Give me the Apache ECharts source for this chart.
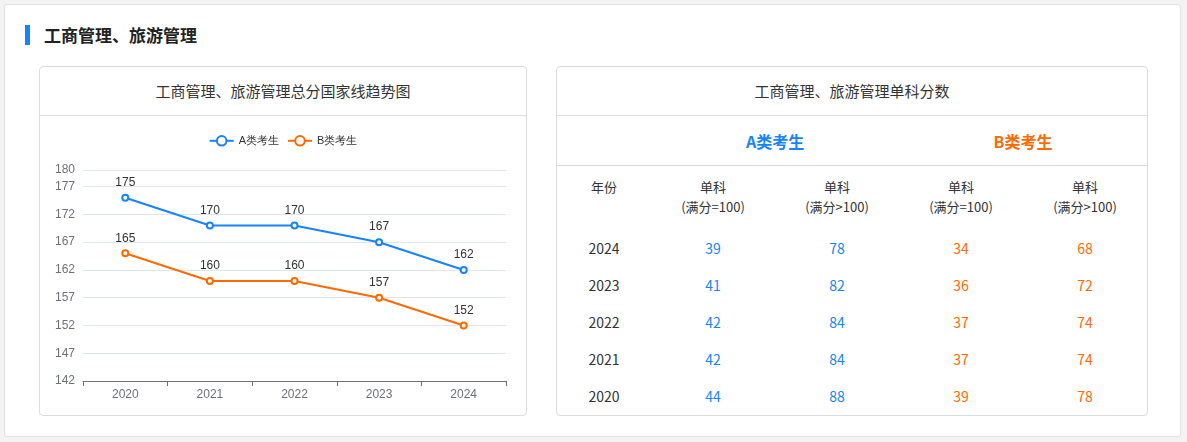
<!DOCTYPE html>
<html lang="zh">
<head>
<meta charset="UTF-8">
<title>工商管理、旅游管理</title>
<script src="https://cdn.jsdelivr.net/npm/echarts@6/dist/echarts.min.js"></script>
<style>
body{margin:0;background:#f3f3f3;font-family:"Noto Sans CJK SC","Noto Sans",sans-serif;color:#333;}
.card{position:absolute;left:4px;top:4px;width:1175px;height:431px;background:#fff;border:1px solid #e2e2e2;border-radius:3px;}
.title{position:absolute;left:20px;top:20px;height:20px;border-left:5px solid #1684fc;padding-left:14px;font-size:17px;font-weight:bold;line-height:20px;color:#222;}
.panel{position:absolute;top:61px;height:348px;border:1px solid #ddd;border-radius:4px;background:#fff;overflow:hidden;}
.ph{height:48px;line-height:48px;text-align:center;font-size:15px;border-bottom:1px solid #ddd;color:#333;}
#chart{width:486px;height:299px;}
table{width:590px;border-collapse:collapse;table-layout:fixed;font-size:13px;text-align:center;}
td{padding:0;line-height:20px;}
.grp td{height:49px;font-size:16px;font-weight:bold;border-bottom:1px solid #ddd;}
.hd td{height:64px;vertical-align:top;padding-top:11px;box-sizing:border-box;}
.row td{height:37px;font-size:14px;}
.a{color:#1684fc;} .b{color:#ff6a00;}
</style>
</head>
<body>
<div class="card">
  <div class="title">工商管理、旅游管理</div>
  <div class="panel" style="left:34px;width:486px;">
    <div class="ph">工商管理、旅游管理总分国家线趋势图</div>
    <div id="chart"></div>
  </div>
  <div class="panel" style="left:551px;width:590px;">
    <div class="ph">工商管理、旅游管理单科分数</div>
    <table id="tbl"></table>
  </div>
</div>
<script>
var years = ['2020', '2021', '2022', '2023', '2024'];
var totalA = [175, 170, 170, 167, 162];
var totalB = [165, 160, 160, 157, 152];

var tableYears = ['2024', '2023', '2022', '2021', '2020'];
var singleA100 = [39, 41, 42, 42, 44];
var singleAover = [78, 82, 84, 84, 88];
var singleB100 = [34, 36, 37, 37, 39];
var singleBover = [68, 72, 74, 74, 78];

var html = '<colgroup><col style="width:94px"><col style="width:124px"><col style="width:124px"><col style="width:124px"><col style="width:124px"></colgroup>';
html += '<tr class="grp"><td></td><td colspan="2" class="a">A类考生</td><td colspan="2" class="b">B类考生</td></tr>';
html += '<tr class="hd"><td>年份</td>';
var heads = ['单科<br>(满分=100)', '单科<br>(满分>100)', '单科<br>(满分=100)', '单科<br>(满分>100)'];
heads.forEach(function (h) { html += '<td>' + h + '</td>'; });
html += '</tr>';
tableYears.forEach(function (y, i) {
  html += '<tr class="row"><td>' + y + '</td><td class="a">' + singleA100[i] + '</td><td class="a">' + singleAover[i] +
    '</td><td class="b">' + singleB100[i] + '</td><td class="b">' + singleBover[i] + '</td></tr>';
});
document.getElementById('tbl').innerHTML = html;

var myChart = echarts.init(document.getElementById('chart'));
var option = {
  legend: {
    top: 14,
    itemWidth: 24, itemHeight: 12,
    textStyle: { fontSize: 11, color: '#333' },
    data: ['A类考生', 'B类考生']
  },
  grid: { left: 43, right: 20, top: 54, bottom: 34 },
  xAxis: {
    type: 'category',
    data: years,
    axisLine: { lineStyle: { color: '#6e7079' } },
    axisTick: { show: true },
    axisLabel: { color: '#6e7079', fontSize: 12 }
  },
  yAxis: {
    type: 'value',
    min: 142, max: 180, interval: 5,
    axisLabel: { color: '#6e7079', fontSize: 12 },
    splitLine: { lineStyle: { color: '#e0e6f1' } }
  },
  series: [{
    name: 'A类考生', type: 'line', data: totalA,
    symbol: 'emptyCircle', symbolSize: 6,
    itemStyle: { color: '#1684fc' }, lineStyle: { width: 2 },
    label: { show: true, position: 'top', color: '#333', fontSize: 12 }
  }, {
    name: 'B类考生', type: 'line', data: totalB,
    symbol: 'emptyCircle', symbolSize: 6,
    itemStyle: { color: '#ff6a00' }, lineStyle: { width: 2 },
    label: { show: true, position: 'top', color: '#333', fontSize: 12 }
  }]
};
myChart.setOption(option);
</script>
</body>
</html>
